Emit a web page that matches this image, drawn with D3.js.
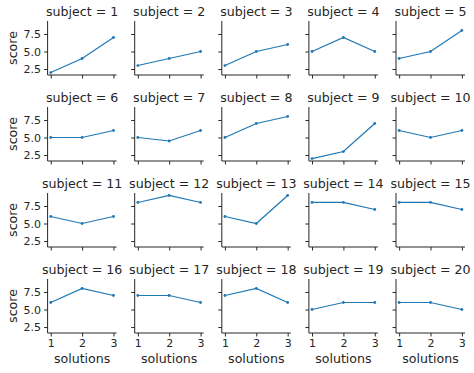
<!DOCTYPE html>
<html>
<head>
<meta charset="utf-8">
<script src="https://cdn.jsdelivr.net/npm/d3@7"></script>
<style>
  body { margin: 0; background: #fff; }
  text { font-family: "DejaVu Sans", sans-serif; fill: #262626; }
</style>
</head>
<body>
<div id="container"></div>
<script>
/* CONSTANTS AND GLOBALS */
const width = 474;
const height = 373;

// DATA - one entry per subject
const subjects = [1, 2, 3, 4, 5, 6, 7, 8, 9, 10, 11, 12, 13, 14, 15, 16, 17, 18, 19, 20];
const solutions = [1, 2, 3];
const scoreSol1 = [2, 3, 3, 5, 4, 5, 5, 5, 2, 6, 6, 8, 6, 8, 8, 6, 7, 7, 5, 6];
const scoreSol2 = [4, 4, 5, 7, 5, 5, 4.5, 7, 3, 5, 5, 9, 5, 8, 8, 8, 7, 8, 6, 6];
const scoreSol3 = [7, 5, 6, 5, 8, 6, 6, 8, 7, 6, 6, 8, 9, 7, 7, 7, 6, 6, 6, 5];
const yTicks = [2.5, 5.0, 7.5];

// GRID LAYOUT
const nCols = 5;
const panelW = 69;
const panelH = 54;
const colStep = 87.1;
const rowStep = 86;
const left0 = 47.6;
const top0 = 21;
const color = "#1f77b4";
const ink = "#262626";

const svg = d3.select("#container")
  .append("svg")
  .attr("width", width)
  .attr("height", height);

// SHARED SCALES
const xScale = d3.scaleLinear()
  .domain([0.9, 3.1])
  .range([0, panelW]);

const yScale = d3.scaleLinear()
  .domain([1.65, 9.35])
  .range([panelH, 0]);

const nRows = Math.ceil(subjects.length / nCols);

subjects.forEach((s, i) => {
  const col = i % nCols;
  const row = Math.floor(i / nCols);
  const g = svg.append("g")
    .attr("transform", `translate(${left0 + col * colStep},${top0 + row * rowStep})`);

  const pts = solutions.map((x, k) => ({ x, y: [scoreSol1, scoreSol2, scoreSol3][k][i] }));

  // AXES
  const xAxis = d3.axisBottom(xScale)
    .tickValues(solutions)
    .tickSize(3.5)
    .tickPadding(3)
    .tickFormat(row === nRows - 1 ? d3.format("d") : "");
  const yAxis = d3.axisLeft(yScale)
    .tickValues(yTicks)
    .tickSize(3.5)
    .tickPadding(3)
    .tickFormat(col === 0 ? d3.format(".1f") : "");

  const gx = g.append("g")
    .attr("transform", `translate(0,${panelH})`)
    .call(xAxis);
  const gy = g.append("g").call(yAxis);

  [gx, gy].forEach(a => {
    a.select(".domain").attr("stroke", ink).attr("stroke-width", 1);
    a.selectAll(".tick line").attr("stroke", ink).attr("stroke-width", 1);
    a.selectAll(".tick text")
      .style("font-size", "11px")
      .style("font-family", "DejaVu Sans, sans-serif")
      .attr("fill", ink);
  });
  gx.select(".domain").attr("d", `M0,0H${panelW}`);
  gy.select(".domain").attr("d", `M0,0V${panelH}`);

  // LINE AND MARKERS
  const line = d3.line().x(d => xScale(d.x)).y(d => yScale(d.y));
  g.append("path")
    .datum(pts)
    .attr("d", line)
    .attr("fill", "none")
    .attr("stroke", color)
    .attr("stroke-width", 1.2);

  g.selectAll("circle")
    .data(pts)
    .join("circle")
    .attr("cx", d => xScale(d.x))
    .attr("cy", d => yScale(d.y))
    .attr("r", 1.4)
    .attr("fill", color);

  // TITLE
  g.append("text")
    .attr("x", panelW / 2)
    .attr("y", -5)
    .attr("text-anchor", "middle")
    .style("font-size", "12.6px")
    .text(`subject = ${s}`);

  // AXIS LABELS
  if (row === nRows - 1) {
    g.append("text")
      .attr("x", panelW / 2)
      .attr("y", panelH + 30)
      .attr("text-anchor", "middle")
      .style("font-size", "12.6px")
      .text("solutions");
  }
  if (col === 0) {
    g.append("text")
      .attr("transform", `translate(-31,${panelH / 2}) rotate(-90)`)
      .attr("text-anchor", "middle")
      .style("font-size", "12.6px")
      .text("score");
  }
});
</script>
</body>
</html>
